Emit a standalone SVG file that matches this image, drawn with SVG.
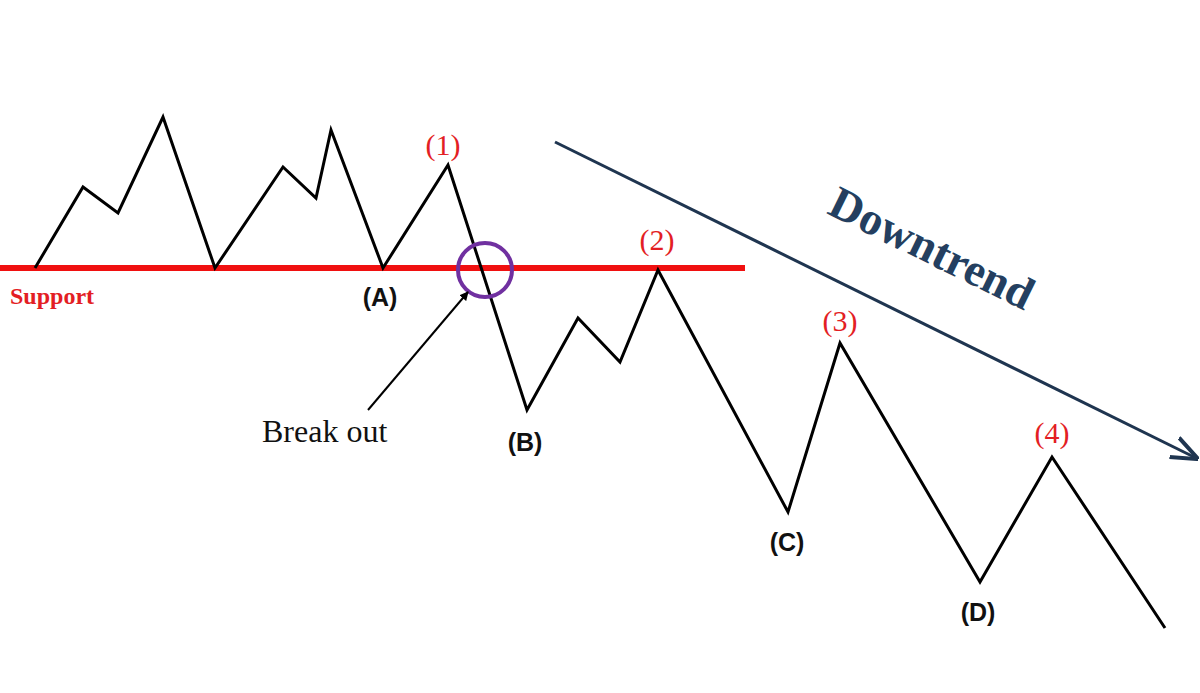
<svg xmlns="http://www.w3.org/2000/svg" width="1200" height="693" viewBox="0 0 1200 693">
<defs>
<style>
.num{font-family:"Liberation Serif",serif;font-size:30px;fill:#e31e24;text-anchor:middle}
.lbl{font-family:"Liberation Sans",sans-serif;font-size:25px;font-weight:bold;fill:#111;text-anchor:middle}
</style>
<marker id="ah" viewBox="0 0 10 10" refX="9" refY="5" markerWidth="9" markerHeight="9" orient="auto" markerUnits="userSpaceOnUse"><path d="M0,0L10,5L0,10z" fill="#000"/></marker>
<marker id="ah2" viewBox="0 0 10 10" refX="9" refY="5" markerWidth="9" markerHeight="9" orient="auto"><path d="M0,1L10,5L0,9" fill="none" stroke="#1f3550" stroke-width="1.5"/></marker>
</defs>
<rect width="1200" height="693" fill="#fff"/>
<g id="support"><line x1="0" y1="268" x2="745" y2="268" stroke="#f01010" stroke-width="6"/>
<text x="10" y="304" font-family="Liberation Serif,serif" font-size="24" font-weight="bold" fill="#e31e24">Support</text></g>
<g id="price"><polyline fill="none" stroke="#000" stroke-width="3" stroke-linejoin="miter" points="35,268 83,187 118,213 163,117 215,268 283,167 316,198 331,130 383,268 448,165 527,410 578,318 620,362 658,270 788,512 840,343 980,582 1052,457 1165,628"/></g>
<g id="breakout"><circle cx="485" cy="270" r="27" fill="none" stroke="#7030a0" stroke-width="4"/></g>
<g id="connectors">
<line x1="368" y1="410" x2="468" y2="292" stroke="#000" stroke-width="2" marker-end="url(#ah)"/>
<line x1="555" y1="142" x2="1196" y2="458" stroke="#1f3550" stroke-width="3" marker-end="url(#ah2)"/>
</g>
<text transform="translate(925,262) rotate(26.2)" text-anchor="middle" font-family="Liberation Serif,serif" font-size="46" font-weight="bold" fill="#243f60">Downtrend</text>
<text x="262" y="442" font-family="Liberation Serif,serif" font-size="32" fill="#111">Break out</text>
<text class="num" x="443" y="155">(1)</text>
<text class="num" x="657" y="250">(2)</text>
<text class="num" x="840" y="331">(3)</text>
<text class="num" x="1052" y="443">(4)</text>
<text class="lbl" x="380" y="306">(A)</text>
<text class="lbl" x="525" y="451">(B)</text>
<text class="lbl" x="787" y="551">(C)</text>
<text class="lbl" x="978" y="621">(D)</text>
</svg>
